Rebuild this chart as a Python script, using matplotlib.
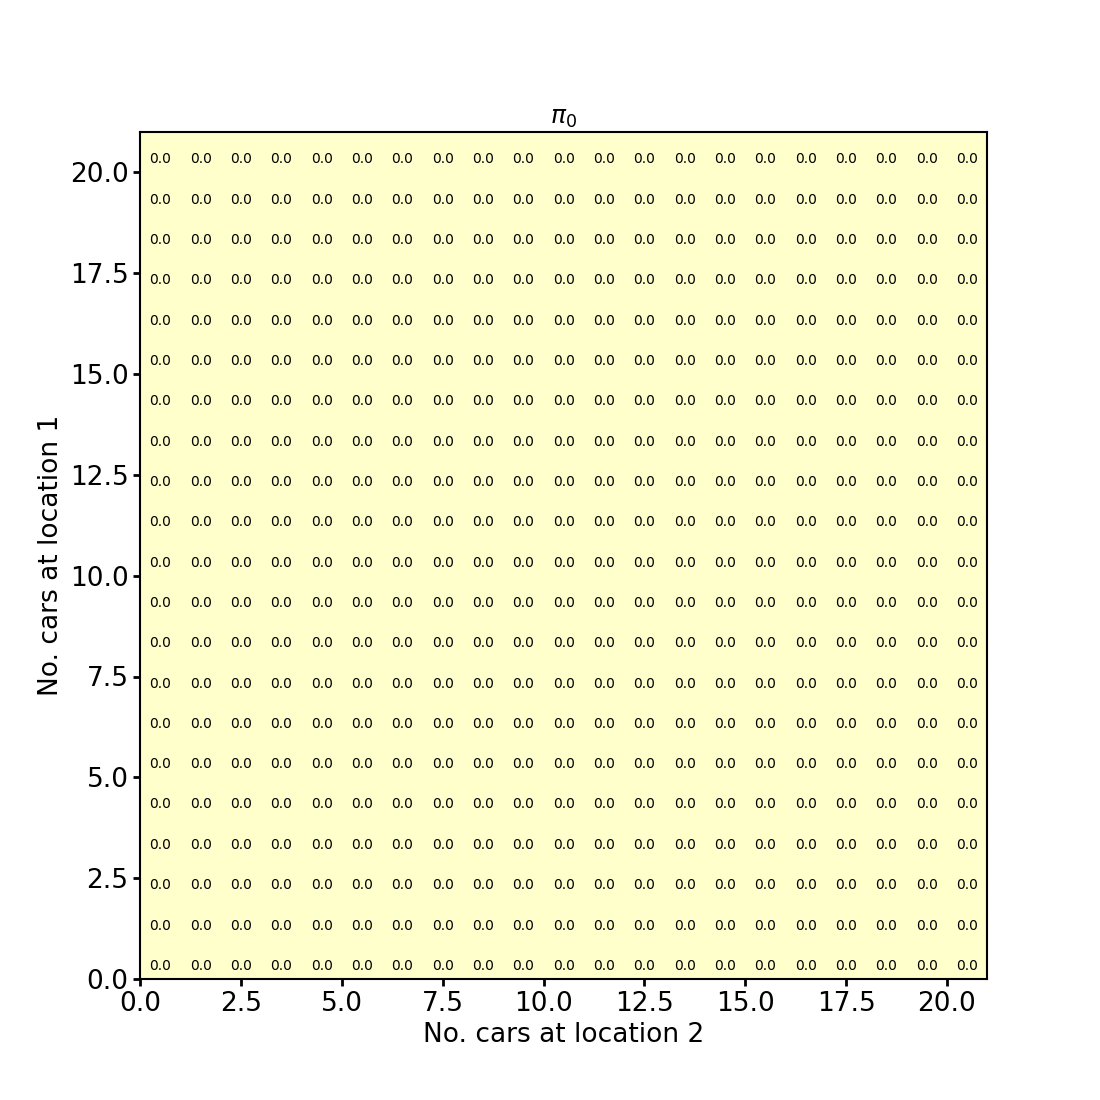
import numpy as np
import matplotlib
matplotlib.use("Agg")
import matplotlib.pyplot as plt

# Data: policy pi_0 (all zeros), 21x21 grid
n_states = 21
cars_loc1 = list(range(n_states))
cars_loc2 = list(range(n_states))
policy = np.zeros((n_states, n_states))

fig = plt.figure(figsize=(11, 11), dpi=100)
ax = fig.add_subplot(111)
ax.imshow(policy, cmap="YlOrRd", vmin=0, vmax=1, origin="lower",
          extent=[0, n_states, 0, n_states], aspect="equal")
for i in cars_loc1:
    for j in cars_loc2:
        ax.text(j + 0.5, i + 0.5, f"{policy[i, j]:.1f}", ha="center", va="top", fontsize=10)

ax.set_xlim(0, n_states)
ax.set_ylim(0, n_states)
ax.set_xlabel("No. cars at location 2", fontsize=19)
ax.set_ylabel("No. cars at location 1", fontsize=19)
ax.set_title(r"$\pi_0$", fontsize=18)
ax.tick_params(axis="both", labelsize=19, width=2, length=5)
for s in ax.spines.values():
    s.set_linewidth(1.5)

fig.savefig("out.png", dpi=100)
